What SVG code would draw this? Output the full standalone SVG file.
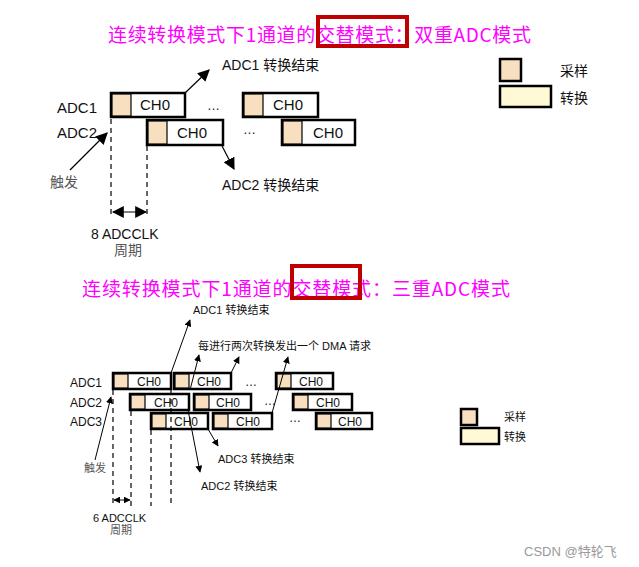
<svg xmlns="http://www.w3.org/2000/svg" width="639" height="567" viewBox="0 0 639 567">
<defs>
<marker id="ah" viewBox="0 0 10 10" refX="9" refY="5" markerWidth="7" markerHeight="7" orient="auto-start-reverse" markerUnits="userSpaceOnUse"><path d="M0,0L10,5L0,10z" fill="#000"/></marker>
<marker id="ah2" viewBox="0 0 10 10" refX="9" refY="5" markerWidth="12" markerHeight="12" orient="auto-start-reverse" markerUnits="userSpaceOnUse"><path d="M0,0L10,5L0,10z" fill="#000"/></marker>
</defs>
<style>
text{font-family:"Liberation Sans","Noto Sans CJK SC",sans-serif;fill:#111}
.t{font-family:"Noto Sans CJK SC",serif;fill:#ff00ff;font-size:19px}
.blk{fill:#fff;stroke:#000;stroke-width:2.5}
.smp{fill:#f7dfc0;stroke:#000;stroke-width:1.2}
.cv{fill:#fff9d6;stroke:#000;stroke-width:2.5}
.ls{fill:#f7dfc0;stroke:#000;stroke-width:2.5}
.d{stroke:#000;stroke-width:1.2;stroke-dasharray:5,4;fill:none}
.a{stroke:#000;stroke-width:1.2;fill:none;marker-end:url(#ah2)}
.a2{stroke:#000;stroke-width:1;fill:none;marker-end:url(#ah)}
.gr{fill:#555}
</style>
<rect width="639" height="567" fill="#fff"/>
<g id="title1"><text class="t" x="108" y="42" textLength="423">连续转换模式下1通道的交替模式：双重ADC模式</text><rect x="318" y="17" width="89" height="29" fill="none" stroke="#c00000" stroke-width="4"/></g>
<g id="title2"><text class="t" x="82" y="296" textLength="428">连续转换模式下1通道的交替模式：三重ADC模式</text><rect x="292" y="266" width="68" height="32" fill="none" stroke="#c00000" stroke-width="4"/></g>
<g id="legend1"><rect class="ls" x="500" y="59" width="21" height="22"/><rect class="cv" x="500" y="86" width="51" height="21"/><text x="560" y="76" font-size="14">采样</text><text x="560" y="103" font-size="14">转换</text></g>
<g id="legend2"><rect class="ls" x="461" y="409" width="16" height="16"/><rect class="cv" x="461" y="428" width="38" height="16"/><text x="504" y="421" font-size="11">采样</text><text x="504" y="441" font-size="11">转换</text></g>
<g id="top-rows" font-size="15">
<text x="57" y="113" font-size="15">ADC1</text><text x="57" y="138" font-size="15">ADC2</text>
<g id="t-adc1-1"><rect class="blk" x="111" y="93" width="74" height="24"/><rect class="smp" x="112" y="94" width="19" height="22"/><text x="140" y="110" font-size="15">CH0</text></g>
<text x="207" y="110" font-size="13">…</text>
<g id="t-adc1-2"><rect class="blk" x="243" y="93" width="75" height="24"/><rect class="smp" x="244" y="94" width="19" height="22"/><text x="273" y="110" font-size="15">CH0</text></g>
<g id="t-adc2-1"><rect class="blk" x="147" y="120" width="76" height="25"/><rect class="smp" x="148" y="121" width="19" height="23"/><text x="177" y="138" font-size="15">CH0</text></g>
<text x="243" y="134" font-size="13">…</text>
<g id="t-adc2-2"><rect class="blk" x="282" y="120" width="73" height="25"/><rect class="smp" x="283" y="121" width="19" height="23"/><text x="313" y="138" font-size="15">CH0</text></g>
<text x="222" y="70" font-size="14">ADC1 转换结束</text>
<text x="222" y="190" font-size="14">ADC2 转换结束</text>
<text x="50" y="187" font-size="14" class="gr">触发</text>
<text x="91" y="239" font-size="14">8 ADCCLK</text>
<text x="114" y="255" font-size="14" class="gr">周期</text>
</g>
<g id="bottom-rows">
<text x="70" y="387" font-size="12">ADC1</text><text x="70" y="407" font-size="12">ADC2</text><text x="70" y="426" font-size="12">ADC3</text>
<g id="b-adc1-1"><rect class="blk" x="113" y="373" width="58" height="16"/><rect class="smp" x="114" y="374" width="14" height="14"/><text x="137" y="386" font-size="12">CH0</text></g>
<g id="b-adc1-2"><rect class="blk" x="174" y="373" width="57" height="16"/><rect class="smp" x="175" y="374" width="14" height="14"/><text x="197" y="386" font-size="12">CH0</text></g>
<text x="245" y="386" font-size="12">…</text>
<g id="b-adc1-3"><rect class="blk" x="276" y="373" width="57" height="16"/><rect class="smp" x="277" y="374" width="14" height="14"/><text x="299" y="386" font-size="12">CH0</text></g>
<g id="b-adc2-1"><rect class="blk" x="130" y="394" width="59" height="16"/><rect class="smp" x="131" y="395" width="14" height="14"/><text x="154" y="407" font-size="12">CH0</text></g>
<g id="b-adc2-2"><rect class="blk" x="194" y="394" width="57" height="16"/><rect class="smp" x="195" y="395" width="14" height="14"/><text x="216" y="407" font-size="12">CH0</text></g>
<text x="264" y="405" font-size="12">…</text>
<g id="b-adc2-3"><rect class="blk" x="293" y="394" width="59" height="16"/><rect class="smp" x="294" y="395" width="14" height="14"/><text x="316" y="407" font-size="12">CH0</text></g>
<g id="b-adc3-1"><rect class="blk" x="151" y="413" width="57" height="16"/><rect class="smp" x="152" y="414" width="14" height="14"/><text x="174" y="426" font-size="12">CH0</text></g>
<g id="b-adc3-2"><rect class="blk" x="213" y="413" width="59" height="16"/><rect class="smp" x="214" y="414" width="14" height="14"/><text x="236" y="426" font-size="12">CH0</text></g>
<text x="289" y="422" font-size="12">…</text>
<g id="b-adc3-3"><rect class="blk" x="316" y="413" width="56" height="16"/><rect class="smp" x="317" y="414" width="14" height="14"/><text x="338" y="426" font-size="12">CH0</text></g>
<text x="193" y="314" font-size="11">ADC1 转换结束</text>
<text x="198" y="350" font-size="11">每进行两次转换发出一个 DMA 请求</text>
<text x="218" y="463" font-size="11">ADC3 转换结束</text>
<text x="201" y="490" font-size="11">ADC2 转换结束</text>
<text x="84" y="472" font-size="11" class="gr">触发</text>
<text x="93" y="522" font-size="11">6 ADCCLK</text>
<text x="110" y="534" font-size="11" class="gr">周期</text>
</g>
<g id="connectors">
<line class="d" x1="111" y1="119" x2="111" y2="216"/>
<line class="d" x1="147" y1="146" x2="147" y2="216"/>
<line class="a" x1="113" y1="212" x2="146" y2="212" style="marker-start:url(#ah2)"/>
<line class="a" x1="70" y1="170" x2="107" y2="133"/>
<line class="a" x1="185" y1="93" x2="209" y2="70"/>
<line class="a" x1="222" y1="146" x2="234" y2="169"/>
<line class="d" x1="113" y1="390" x2="113" y2="506"/>
<line class="d" x1="131" y1="411" x2="131" y2="506"/>
<line class="d" x1="151" y1="430" x2="151" y2="506"/>
<line class="d" x1="171" y1="390" x2="171" y2="506"/>
<line class="a2" x1="114" y1="500" x2="130" y2="500" style="marker-start:url(#ah)"/>
<line class="a2" x1="95" y1="460" x2="111" y2="397"/>
<line class="a2" x1="171" y1="373" x2="190" y2="320"/>
<line class="a2" x1="190" y1="390" x2="199" y2="355"/>
<line class="a2" x1="231" y1="373" x2="239" y2="357"/>
<line class="a2" x1="272" y1="413" x2="288" y2="357"/>
<line class="a2" x1="188" y1="410" x2="200" y2="472"/>
<line class="a2" x1="208" y1="429" x2="218" y2="446"/>
</g>
<text x="524" y="556" font-size="13" style="fill:#999">CSDN @特轮飞</text>
</svg>
